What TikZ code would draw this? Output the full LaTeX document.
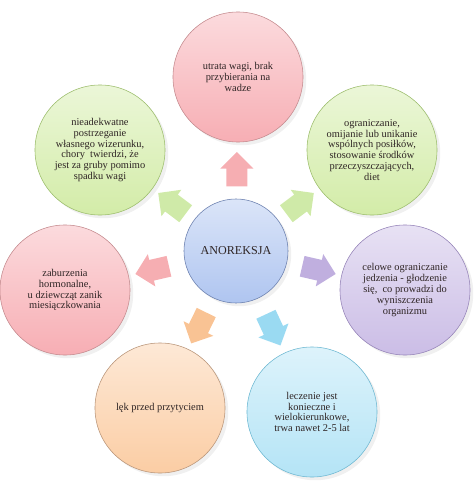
\documentclass[tikz,border=0pt]{standalone}
\usepackage{fontspec}
\setmainfont{Liberation Serif}
\usetikzlibrary{shapes.arrows,shadows,calc}
\definecolor{txt}{HTML}{2E2424}
\definecolor{pinkF}{HTML}{F7AEB4}  \definecolor{pinkD}{HTML}{C48A8E}
\definecolor{greenF}{HTML}{D3ECA8} \definecolor{greenD}{HTML}{9CBD6C}
\definecolor{violF}{HTML}{CBBDE6}  \definecolor{violD}{HTML}{9583B8}
\definecolor{orF}{HTML}{FBCDA4}    \definecolor{orD}{HTML}{B99579}
\definecolor{cyF}{HTML}{B4E4F6}    \definecolor{cyD}{HTML}{6DB8D2}
\definecolor{blF}{HTML}{AFC5F0}    \definecolor{blD}{HTML}{6A7FAE}
\definecolor{pinkA}{HTML}{F6AEB2}
\definecolor{greenA}{HTML}{CFEAA8}
\definecolor{violA}{HTML}{C0AFDF}
\definecolor{orA}{HTML}{F9C394}
\definecolor{cyA}{HTML}{9ADAF2}
\begin{document}
\begin{tikzpicture}[x=0.025cm, y=-0.025cm,
	bubble/.style={circle, draw=#1D, top color=#1F!45!white, bottom color=#1F, minimum size=3.25cm,
		align=center, text=txt, font=\fontsize{7.4}{7.7}\selectfont, drop shadow={opacity=.12}},
	blok/.style={single arrow, fill=#1, draw=none, minimum height=.86cm, inner sep=.18cm,
		single arrow head extend=.15cm, shape border uses incircle}]
	\useasboundingbox (0,0) rectangle (474,493);
	% srodek
	\node[bubble=bl, minimum size=2.6cm, font=\fontsize{8.6}{10}\selectfont] (ano) at (236,251) {ANOREKSJA};
	% kola dookola
	\node[bubble=pink] (top) at (238,77) {utrata wagi, brak\\ przybierania na\\ wadze};
	\node[bubble=green] (tr) at (372,150) {ograniczanie,\\ omijanie lub unikanie\\ wspólnych posiłków,\\ stosowanie środków\\ przeczyszczających,\\ diet};
	\node[bubble=green] (tl) at (100,150) {nieadekwatne\\ postrzeganie\\ własnego wizerunku,\\ chory\ \ twierdzi, że\\ jest za gruby pomimo\\ spadku wagi};
	\node[bubble=pink] (lf) at (65,290) {zaburzenia\\ hormonalne,\\ u dziewcząt zanik\\ miesiączkowania};
	\node[bubble=viol] (rt) at (405,290) {celowe ograniczanie\\ jedzenia - głodzenie\\ się,\ \ co prowadzi do\\ wyniszczenia\\ organizmu};
	\node[bubble=or] (bl) at (160,408) {lęk przed przytyciem};
	\node[bubble=cy] (br) at (312,412) {leczenie jest\\ konieczne i\\ wielokierunkowe,\\ trwa nawet 2-5 lat};
	% strzalki
	\node[blok=pinkA, shape border rotate=90] (s1) at ($(ano)!.44!(top)$) {};
	\node[blok=greenA, shape border rotate=37] (s2) at ($(ano)!.44!(tr)$) {};
	\node[blok=greenA, shape border rotate=143] (s3) at ($(ano)!.44!(tl)$) {};
	\node[blok=pinkA, shape border rotate=193] (s4) at ($(ano)!.46!(lf)$) {};
	\node[blok=violA, shape border rotate=-13] (s5) at ($(ano)!.46!(rt)$) {};
	\node[blok=orA, shape border rotate=244] (s6) at ($(ano)!.46!(bl)$) {};
	\node[blok=cyA, shape border rotate=-65] (s7) at ($(ano)!.46!(br)$) {};
\end{tikzpicture}
\end{document}
